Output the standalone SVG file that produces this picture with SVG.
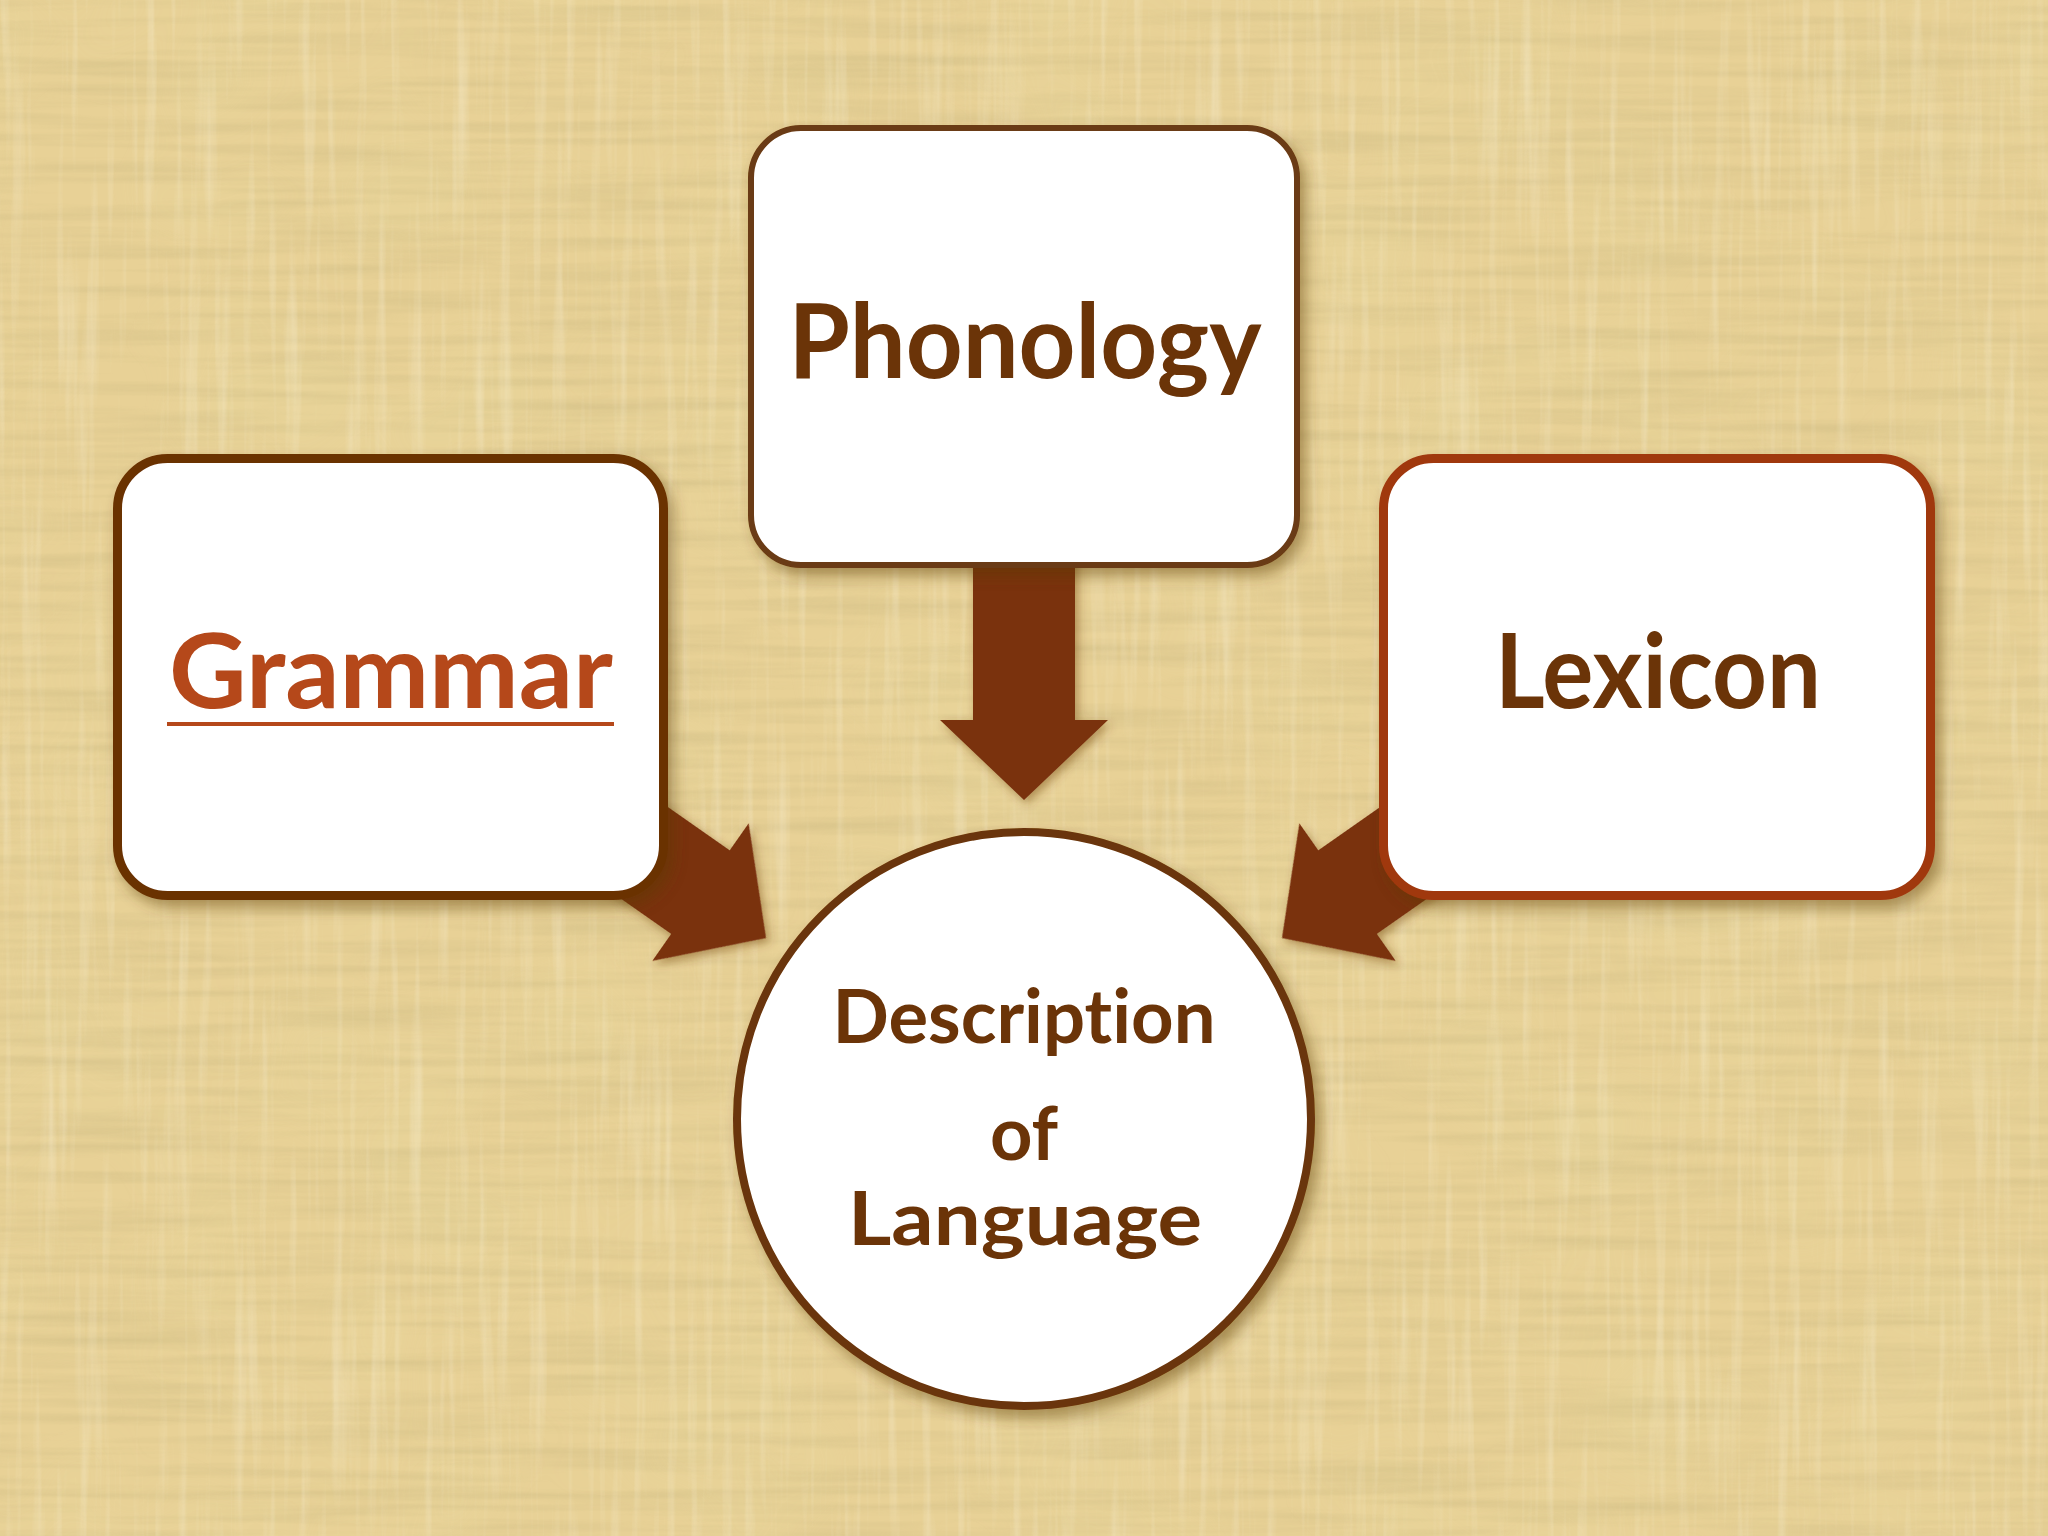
<svg xmlns="http://www.w3.org/2000/svg" width="2048" height="1536" viewBox="0 0 2048 1536">
<defs>
<style>
.lbl{font-family:Lato,"Open Sans","Liberation Sans",sans-serif;font-weight:700;text-anchor:middle;font-variant-ligatures:none;font-feature-settings:"liga" 0,"dlig" 0}
.box{fill:#ffffff}
.arrow{fill:#7A3010}
</style>
<filter id="texH" x="0" y="0" width="100%" height="100%">
<feTurbulence type="fractalNoise" baseFrequency="0.004 0.09" numOctaves="3" seed="3"/>
<feColorMatrix type="matrix" values="0 0 0 0 0.55  0 0 0 0 0.45  0 0 0 0 0.2  0 0 0 -1.6 1.0"/>
</filter>
<filter id="texV" x="0" y="0" width="100%" height="100%">
<feTurbulence type="fractalNoise" baseFrequency="0.09 0.004" numOctaves="3" seed="7"/>
<feColorMatrix type="matrix" values="0 0 0 0 1  0 0 0 0 0.97  0 0 0 0 0.85  0 0 0 1.8 -0.9"/>
</filter>
<filter id="blot" x="0" y="0" width="100%" height="100%">
<feTurbulence type="fractalNoise" baseFrequency="0.006 0.006" numOctaves="2" seed="11"/>
<feColorMatrix type="matrix" values="0 0 0 0 0.8  0 0 0 0 0.7  0 0 0 0 0.35  0 0 0 1.2 -0.45"/>
</filter>
<filter id="shadow" x="-10%" y="-10%" width="130%" height="130%">
<feDropShadow dx="6" dy="8" stdDeviation="7" flood-color="#5a3a10" flood-opacity="0.45"/>
</filter>
<filter id="ashadow" x="-20%" y="-20%" width="140%" height="140%">
<feDropShadow in="SourceGraphic" dx="3" dy="4" stdDeviation="5" flood-color="#6a3a10" flood-opacity="0.45"/>
</filter>
<path id="arr" d="M0,0 L-80,-84 L-80,-51 L-300,-51 L-300,51 L-80,51 L-80,84 Z"/>
</defs>

<g id="background">
<rect width="2048" height="1536" fill="#E8D196"/>
<rect width="2048" height="1536" filter="url(#blot)" opacity="0.5"/>
<rect width="2048" height="1536" filter="url(#texH)" opacity="0.4"/>
<rect width="2048" height="1536" filter="url(#texV)" opacity="0.35"/>
</g>

<g id="connectors" class="arrow" filter="url(#ashadow)">
<use href="#arr" transform="translate(1024,800) rotate(90)"/>
<use href="#arr" transform="translate(766,938) rotate(35)"/>
<use href="#arr" transform="translate(1282,938) rotate(145)"/>
</g>

<g id="phonology">
<rect class="box" x="751" y="128" width="546" height="437" rx="50" stroke="#6B3A12" stroke-width="6" filter="url(#shadow)"/>
<text class="lbl" x="1025" y="378" font-size="104" fill="#6B3408" textLength="473" lengthAdjust="spacingAndGlyphs">Phonology</text>
</g>

<g id="grammar">
<rect class="box" x="117.5" y="458.5" width="546" height="437" rx="50" stroke="#6B3205" stroke-width="9" filter="url(#shadow)"/>
<text class="lbl" x="391" y="708" font-size="104" fill="#B5481A" textLength="444" lengthAdjust="spacingAndGlyphs">Grammar</text>
<rect x="167" y="722" width="447" height="4" fill="#B5481A"/>
</g>

<g id="lexicon">
<rect class="box" x="1383.5" y="458.5" width="547" height="437" rx="50" stroke="#A0380E" stroke-width="9" filter="url(#shadow)"/>
<text class="lbl" x="1658" y="708" font-size="104" fill="#6B3408" textLength="326" lengthAdjust="spacingAndGlyphs">Lexicon</text>
</g>

<g id="description">
<circle class="box" cx="1024" cy="1119" r="287" stroke="#6B3408" stroke-width="8" filter="url(#shadow)"/>
<text class="lbl" x="1024" y="1043" font-size="74" fill="#6B3408" textLength="383" lengthAdjust="spacingAndGlyphs">Description</text>
<text class="lbl" x="1024" y="1160" font-size="74" fill="#6B3408">of</text>
<text class="lbl" x="1025" y="1245" font-size="74" fill="#6B3408" textLength="354" lengthAdjust="spacingAndGlyphs">Language</text>
</g>
</svg>
